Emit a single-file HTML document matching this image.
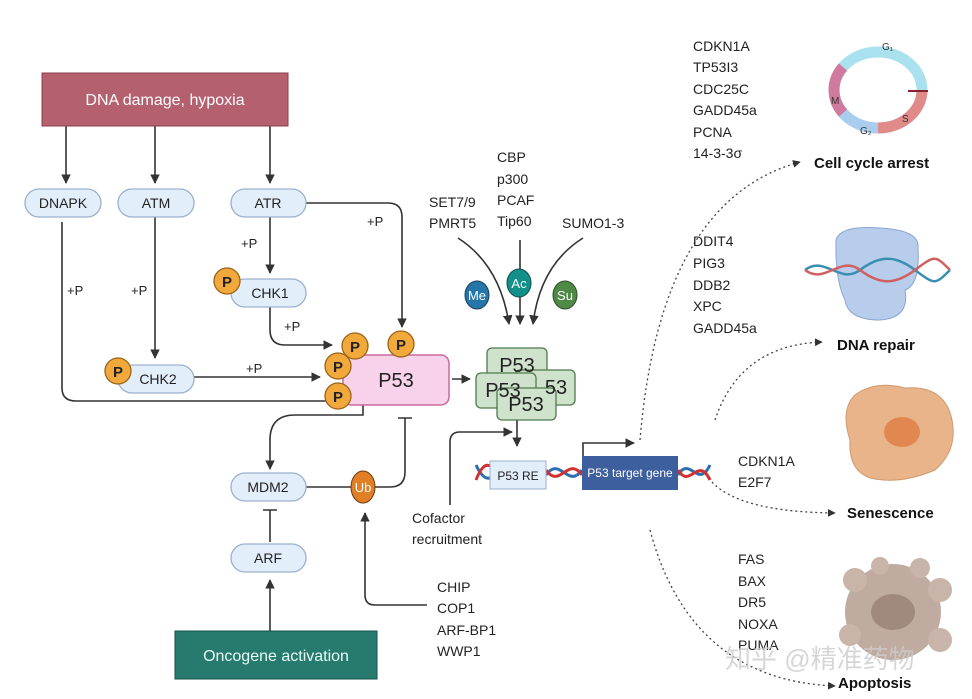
<!DOCTYPE html>
<html><head><meta charset="utf-8"><style>
body{margin:0;background:#fff}
svg{display:block;font-family:"Liberation Sans","Noto Sans CJK SC",sans-serif}
</style></head><body>
<svg width="972" height="699" viewBox="0 0 972 699" xmlns="http://www.w3.org/2000/svg">
<defs>
<marker id="a" viewBox="0 0 10 10" refX="9" refY="5" markerWidth="6" markerHeight="6" orient="auto"><path d="M0,0L10,5L0,10z" fill="#333"/></marker>
</defs>
<rect width="972" height="699" fill="#fff"/>
<g stroke="#333" stroke-width="1.6" fill="none">
<path d="M66,126V183" marker-end="url(#a)"/>
<path d="M155,126V183" marker-end="url(#a)"/>
<path d="M270,126V183" marker-end="url(#a)"/>
<path d="M62,222V388Q62,401 76,401H328"/>
<path d="M155,217V358" marker-end="url(#a)"/>
<path d="M194,377H320" marker-end="url(#a)"/>
<path d="M270,217V273" marker-end="url(#a)"/>
<path d="M270,307V330Q270,345 285,345H332" marker-end="url(#a)"/>
<path d="M306,203H388Q402,203 402,217V327" marker-end="url(#a)"/>
<path d="M452,379H470" marker-end="url(#a)"/>
<path d="M517,420V446" marker-end="url(#a)"/>
<path d="M450,505V442Q450,432 460,432H512" marker-end="url(#a)"/>
<path d="M363,405V415H295Q270,415 270,440V469" marker-end="url(#a)"/>
<path d="M398,418H412M405,418V472Q405,487 390,487H375"/>
<path d="M306,487H351"/>
<path d="M270,542V510M263,510H277"/>
<path d="M270,631V580" marker-end="url(#a)"/>
<path d="M427,605H375Q365,605 365,595V513" marker-end="url(#a)"/>
<path d="M458,238Q500,265 509,324" marker-end="url(#a)"/>
<path d="M520,240V324" marker-end="url(#a)"/>
<path d="M583,238Q540,265 533,324" marker-end="url(#a)"/>
<path d="M583,456V443H634" marker-end="url(#a)"/>
</g>
<g stroke="#444" stroke-width="1.3" fill="none" stroke-dasharray="2,3">
<path d="M640,440Q660,200 800,162" marker-end="url(#a)"/>
<path d="M715,420Q740,345 822,342" marker-end="url(#a)"/>
<path d="M712,482Q740,512 835,513" marker-end="url(#a)"/>
<path d="M650,530Q690,680 835,686" marker-end="url(#a)"/>
</g>
<rect x="42" y="73" width="246" height="53" fill="#b5606f" stroke="#8a3e4b"/>
<text x="165" y="105" font-size="16" fill="#fff" text-anchor="middle">DNA damage, hypoxia</text>
<g fill="#e3eefb" stroke="#9ab0cc" stroke-width="1.3">
<rect x="25" y="189" width="76" height="28" rx="14"/>
<rect x="118" y="189" width="76" height="28" rx="14"/>
<rect x="231" y="189" width="75" height="28" rx="14"/>
<rect x="231" y="279" width="75" height="28" rx="14"/>
<rect x="118" y="365" width="76" height="28" rx="14"/>
<rect x="231" y="473" width="75" height="28" rx="14"/>
<rect x="231" y="544" width="75" height="28" rx="14"/>
</g>
<g font-size="14" fill="#222" text-anchor="middle">
<text x="63" y="208">DNAPK</text><text x="156" y="208">ATM</text><text x="268" y="208">ATR</text>
<text x="270" y="298">CHK1</text><text x="158" y="384">CHK2</text>
<text x="268" y="492">MDM2</text><text x="268" y="563">ARF</text>
</g>
<g font-size="13" fill="#222">
<text x="67" y="295">+P</text><text x="131" y="295">+P</text><text x="241" y="248">+P</text>
<text x="284" y="331">+P</text><text x="246" y="373">+P</text><text x="367" y="226">+P</text>
</g>
<rect x="343" y="355" width="106" height="50" rx="8" fill="#f8d2ea" stroke="#c76a9d" stroke-width="1.5"/>
<text x="396" y="387" font-size="20" fill="#222" text-anchor="middle">P53</text>
<g fill="#f2a93c" stroke="#9a6418" stroke-width="1.3">
<circle cx="118" cy="371" r="13"/><circle cx="227" cy="281" r="13"/>
<circle cx="355" cy="346" r="13"/><circle cx="401" cy="344" r="13"/>
<circle cx="338" cy="366" r="13"/><circle cx="338" cy="396" r="13"/>
</g>
<g font-size="15" font-weight="bold" fill="#222" text-anchor="middle">
<text x="118" y="377">P</text><text x="227" y="287">P</text><text x="355" y="352">P</text>
<text x="401" y="350">P</text><text x="338" y="372">P</text><text x="338" y="402">P</text>
</g>
<g fill="#cfe2cc" stroke="#4e7a4c" stroke-width="1.3">
<rect x="487" y="348" width="60" height="40" rx="5"/>
<rect x="515" y="370" width="60" height="35" rx="5"/>
<rect x="476" y="373" width="60" height="35" rx="5"/>
<rect x="497" y="388" width="59" height="32" rx="5"/>
</g>
<g font-size="20" fill="#222" text-anchor="middle">
<text x="517" y="372">P53</text><text x="556" y="394">53</text><text x="503" y="397">P53</text><text x="526" y="411">P53</text>
</g>
<g font-size="14" fill="#222">
<text x="429" y="207">SET7/9</text><text x="429" y="228">PMRT5</text>
<text x="497" y="162">CBP</text><text x="497" y="184">p300</text><text x="497" y="205">PCAF</text><text x="497" y="226">Tip60</text>
<text x="562" y="228">SUMO1-3</text>
<text x="412" y="523">Cofactor</text><text x="412" y="544">recruitment</text>
<text x="437" y="592">CHIP</text><text x="437" y="613">COP1</text><text x="437" y="635">ARF-BP1</text><text x="437" y="656">WWP1</text>
</g>
<ellipse cx="477" cy="295" rx="12" ry="14" fill="#2576a8" stroke="#1a3f5a"/>
<ellipse cx="519" cy="283" rx="12" ry="14" fill="#13908a" stroke="#0d4f4a"/>
<ellipse cx="565" cy="295" rx="12" ry="14" fill="#4e8a45" stroke="#2c4c27"/>
<g font-size="13" fill="#fff" text-anchor="middle"><text x="477" y="300">Me</text><text x="519" y="288">Ac</text><text x="565" y="300">Su</text></g>
<g fill="none" stroke-width="3">
<path d="M476,465Q483,480 490,478" stroke="#2a6fb0"/><path d="M476,480Q483,462 490,466" stroke="#d03030"/>
<path d="M546,475C560,455 568,490 582,470" stroke="#2a6fb0"/><path d="M546,470C560,490 568,455 582,475" stroke="#d03030"/>
<path d="M678,475C690,455 698,490 710,465" stroke="#2a6fb0"/><path d="M678,470C690,490 698,455 710,480" stroke="#d03030"/>
</g>
<rect x="490" y="461" width="56" height="28" fill="#e3eefb" stroke="#9ab0cc"/>
<text x="518" y="480" font-size="12" fill="#222" text-anchor="middle">P53 RE</text>
<rect x="582" y="456" width="96" height="34" fill="#3e5f9e"/>
<text x="630" y="477" font-size="12" fill="#fff" text-anchor="middle">P53 target gene</text>
<ellipse cx="363" cy="487" rx="12" ry="16" fill="#e07f25" stroke="#6a3a10"/>
<text x="363" y="492" font-size="13" fill="#fff" text-anchor="middle">Ub</text>
<rect x="175" y="631" width="202" height="48" fill="#277a6e" stroke="#1a5048"/>
<text x="276" y="661" font-size="16" fill="#e8fbf6" text-anchor="middle">Oncogene activation</text>
<g font-size="14" fill="#222">
<text x="693" y="51">CDKN1A</text><text x="693" y="72">TP53I3</text><text x="693" y="94">CDC25C</text><text x="693" y="115">GADD45a</text><text x="693" y="137">PCNA</text><text x="693" y="158">14-3-3σ</text>
<text x="693" y="246">DDIT4</text><text x="693" y="268">PIG3</text><text x="693" y="290">DDB2</text><text x="693" y="311">XPC</text><text x="693" y="333">GADD45a</text>
<text x="738" y="466">CDKN1A</text><text x="738" y="487">E2F7</text>
<text x="738" y="564">FAS</text><text x="738" y="586">BAX</text><text x="738" y="607">DR5</text><text x="738" y="629">NOXA</text><text x="738" y="650">PUMA</text>
</g>
<g font-size="15" font-weight="bold" fill="#111">
<text x="814" y="168">Cell cycle arrest</text><text x="837" y="350">DNA repair</text>
<text x="847" y="518">Senescence</text><text x="838" y="688">Apoptosis</text>
</g>
<ellipse cx="878" cy="90" rx="44" ry="38" fill="none" stroke="#a9e2ee" stroke-width="11"/>
<path d="M878,128A44,38 0 0 0 922,90" fill="none" stroke="#e08a8a" stroke-width="11"/>
<path d="M878,128A44,38 0 0 1 843,113" fill="none" stroke="#a9cdef" stroke-width="11"/>
<path d="M843,113A44,38 0 0 1 843,67" fill="none" stroke="#d07aa0" stroke-width="11"/>
<path d="M908,91H928" stroke="#8a2030" stroke-width="2"/>
<text x="882" y="50" font-size="10" fill="#333">G₁</text><text x="831" y="104" font-size="10" fill="#333">M</text>
<text x="902" y="122" font-size="10" fill="#333">S</text><text x="860" y="134" font-size="10" fill="#333">G₂</text>
<path d="M836,240Q840,225 880,228Q920,230 918,248Q920,285 905,290Q910,318 880,320Q848,320 845,300Q835,280 836,240z" fill="#b8cdec" stroke="#8aa6d0"/>
<g fill="none" stroke-width="2.5">
<path d="M805,270C825,255 840,285 860,270S895,255 915,270S935,285 950,270" stroke="#3a8fb0"/>
<path d="M805,270C825,285 840,255 860,270S895,285 915,270S935,255 950,270" stroke="#d06060"/>
</g>
<path d="M855,395Q875,380 905,388Q945,385 952,420Q958,450 935,470Q900,485 870,478Q848,470 850,440Q840,410 855,395z" fill="#e9b48a" stroke="#d09a70"/>
<ellipse cx="902" cy="432" rx="18" ry="15" fill="#e08850"/>
<circle cx="893" cy="612" r="48" fill="#c0aba0"/>
<g fill="#c8b4a8"><circle cx="855" cy="580" r="12"/><circle cx="940" cy="590" r="12"/><circle cx="850" cy="635" r="11"/><circle cx="940" cy="640" r="12"/><circle cx="880" cy="566" r="9"/><circle cx="920" cy="568" r="10"/></g>
<ellipse cx="893" cy="612" rx="22" ry="18" fill="#a08a80"/>
<text x="725" y="668" font-size="26" fill="#ccc" fill-opacity="0.8">知乎 @精准药物</text>
</svg>
</body></html>
